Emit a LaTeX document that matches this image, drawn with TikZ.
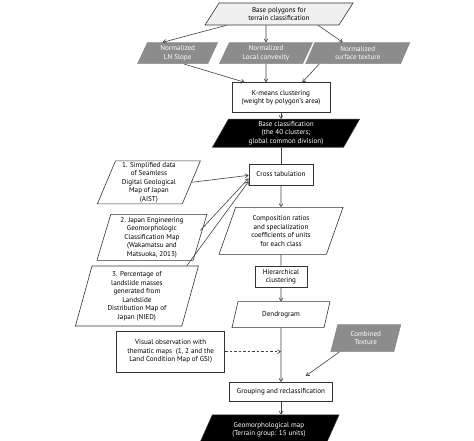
\documentclass[tikz,border=0pt]{standalone}
\usepackage{fontspec}
\setmainfont{PT Sans}
\usetikzlibrary{positioning,shapes.geometric,arrows.meta}

\begin{document}
\begin{tikzpicture}[
  x=1pt, y=1pt,
  font=\fontsize{7.1}{8.5}\selectfont,
  box/.style={draw=black!80, fill=white, align=center, inner sep=2pt, line width=0.6pt},
  para/.style={trapezium, trapezium stretches body, trapezium left angle=#1, trapezium right angle=180-#1,
    draw=black!80, fill=white, align=center, inner sep=1pt, line width=0.6pt},
  grayp/.style={para=#1, draw=black!45, fill=black!45, text=white},
  blackp/.style={para=#1, fill=black, text=white},
  arr/.style={-{Straight Barb[length=3pt,width=4pt]}, black!75, line width=0.6pt},
  link/.style={black!75, line width=0.6pt},
  dasharr/.style={arr, dash pattern=on 2.5pt off 2pt},
]
\useasboundingbox (0,0) rectangle (474,-441);
% main column
\node[para=48, fill=black!6, minimum width=148pt, minimum height=22pt] (base) at (279,-14) {Base polygons for\\terrain classification};
\node[grayp=60, minimum width=93pt, minimum height=21pt, below=17pt of base, xshift=-13pt] (convex) {Normalized\\Local convexity};
\node[grayp=60, minimum width=80pt, minimum height=21pt, left=11pt of convex] (slope) {Normalized\\LN Slope};
\node[grayp=60, minimum width=104pt, minimum height=21pt, right=2pt of convex] (texture) {Normalized\\surface texture};
\node[box, minimum width=98pt, minimum height=30pt, below=57pt of base, xshift=2pt] (kmeans) {K-means clustering\\(weight by polygon's area)};
\node[blackp=58, minimum width=147pt, minimum height=28pt, below=6pt of kmeans, xshift=5pt] (basecls) {Base classification\\(the 40 clusters;\\global common division)};
\node[box, minimum width=64pt, minimum height=21pt, below=16pt of basecls, xshift=-5pt] (cross) {Cross tabulation};
\node[para=63, minimum width=124pt, minimum height=47pt, below=22pt of cross] (ratio) {Composition ratios\\and specialization\\coefficients of units\\for each class};
\node[box, minimum width=52pt, minimum height=21pt, below=11pt of ratio] (hier) {Hierarchical\\clustering};
\node[para=55, minimum width=98pt, minimum height=26pt, below=14pt of hier] (dendro) {Dendrogram};
\node[box, minimum width=103pt, minimum height=19pt, below=54pt of dendro] (group) {Grouping and reclassification};
\node[blackp=52, minimum width=140pt, minimum height=30pt, below=13pt of group, xshift=-12pt] (geomap) {Geomorphological map\\(Terrain group: 15 units)};
% side inputs
\node[grayp=66, minimum width=70pt, minimum height=27pt, above=30pt of group.north east, xshift=33pt] (combtex) {Combined\\Texture};
\node[box, minimum width=108pt, minimum height=41pt, below left=3pt and 56pt of dendro.south] (visual) {Visual observation with\\thematic maps\ \ (1, 2 and the\\Land Condition Map of GSI)};
\node[para=67, minimum width=103pt, minimum height=43pt, left=57pt of cross, yshift=-8pt] (src1) {1. Simplified data\\of Seamless\\Digital Geological\\Map of Japan\\(AIST)};
\node[para=72, minimum width=110pt, minimum height=46pt, below=10pt of src1, xshift=3pt] (src2) {2. Japan Engineering\\Geomorphologic\\Classification Map\\(Wakamatsu and\\Matsuoka, 2013)};
\node[para=72, minimum width=123pt, minimum height=60pt, below=5pt of src2, xshift=-15pt] (src3) {3. Percentage of\\landslide masses\\generated from\\Landslide\\Distribution Map of\\Japan (NIED)};
% arrows
\draw[arr] ([xshift=22pt]base.bottom left corner) -- ([xshift=-15pt]slope.north);
\draw[arr] (convex.north |- base.south) -- (convex);
\draw[arr] ([xshift=-21pt]base.bottom right corner) -- ([xshift=-15pt]texture.north);
\draw[arr] ([xshift=6pt]slope.south) -- ([xshift=13pt]kmeans.north west);
\draw[arr] (convex) -- (convex.south |- kmeans.north);
\draw[arr] ([xshift=14pt]texture.bottom left corner) -- ([xshift=-28pt]kmeans.north east);
\draw[arr] (kmeans) -- (kmeans |- basecls.north);
\draw[link] (basecls.south -| cross) -- (cross);
\draw[arr] (cross) -- (ratio);
\draw[link] (ratio) -- (hier);
\draw[arr] (hier) -- (dendro);
\draw[arr] (dendro) -- (group);
\draw[arr] (group) -- (group |- geomap.north);
\draw[dasharr] (visual) -- (visual -| dendro);
\draw[arr] ([xshift=9pt]combtex.bottom left corner) -- ([xshift=-27pt,yshift=6pt]group.north east);
\draw[arr] (src1.east) -- ([yshift=-1pt]cross.west);
\draw[arr] ([yshift=7pt]src2.east) -- ([yshift=-4pt]cross.west);
\draw[arr] ([xshift=-12pt]src3.top right corner) -- ([yshift=-7pt]cross.west);
\end{tikzpicture}
\end{document}
